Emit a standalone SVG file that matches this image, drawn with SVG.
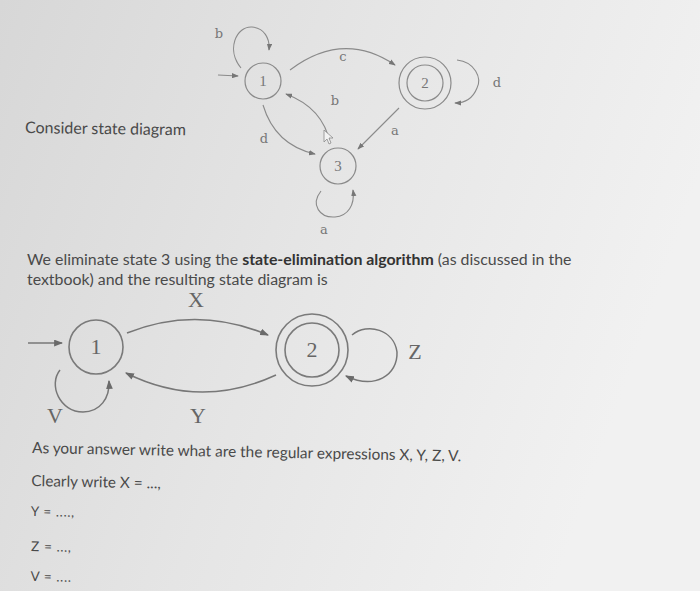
<svg xmlns="http://www.w3.org/2000/svg" width="700" height="591" viewBox="0 0 700 591">
<defs>
<linearGradient id="bg" x1="0" y1="0" x2="1" y2="0.3">
<stop offset="0" stop-color="#d7d7d7"/>
<stop offset="0.5" stop-color="#e5e5e5"/>
<stop offset="1" stop-color="#f1f1f1"/>
</linearGradient>
<marker id="ah" viewBox="0 0 8 6" refX="7" refY="3" markerWidth="7" markerHeight="5.5" orient="auto" markerUnits="userSpaceOnUse">
<path d="M0,0 L8,3 L0,6 z" fill="#777"/>
</marker>
<marker id="ah2" viewBox="0 0 8 6" refX="7" refY="3" markerWidth="9" markerHeight="7" orient="auto" markerUnits="userSpaceOnUse">
<path d="M0,0 L8,3 L0,6 z" fill="#6a6a6a"/>
</marker>
</defs>
<style>
.st{fill:none;stroke:#8a8a8a;stroke-width:1.2}
.st2{fill:none;stroke:#7a7a7a;stroke-width:1.6}
.e{fill:none;stroke:#8a8a8a;stroke-width:1.1;marker-end:url(#ah)}
.e2{fill:none;stroke:#777;stroke-width:1.5;marker-end:url(#ah2)}
.lb{font-family:"DejaVu Serif","Liberation Serif",serif;font-size:13px;fill:#777;text-anchor:middle}
.lb2{font-family:"Liberation Serif","DejaVu Serif",serif;font-size:22px;fill:#666;text-anchor:middle}
.n1{font-family:"Liberation Serif","DejaVu Serif",serif;font-size:15px;fill:#777;text-anchor:middle}
.n2{font-family:"Liberation Serif","DejaVu Serif",serif;font-size:22px;fill:#666;text-anchor:middle}
.tx{font-family:Lato,"Open Sans",sans-serif;fill:#4a4a4a}
</style>
<rect width="700" height="591" fill="url(#bg)"/>

<text class="tx" x="25" y="133" font-size="16" transform="rotate(0.8 25 133)">Consider state diagram</text>

<g id="top-connectors">
<path class="e" d="M218,75 L238,76"/>
<path class="e" d="M241,68 C226,50 236,26 252,27 C264,28 270,38 269,50"/>
<path class="e" d="M290,70 Q343,30 395,65"/>
<path class="e" d="M457,60 C475,62 482,78 477,88 C473,98 465,103 455,103"/>
<path class="e" d="M330,143 Q323,108 286,94"/>
<path class="e" d="M263,105 Q275,145 315,154"/>
<path class="e" d="M399,108 L358,149"/>
<path class="e" d="M321,191 C310,205 320,218 335,217 C348,216 355,205 353,190"/>
<text class="lb" x="219" y="38">b</text>
<text class="lb" x="343" y="61">c</text>
<text class="lb" x="497" y="87">d</text>
<text class="lb" x="335" y="105">b</text>
<text class="lb" x="264" y="143">d</text>
<text class="lb" x="395" y="135">a</text>
<text class="lb" x="324" y="234">a</text>
</g>
<g id="t-state1"><circle class="st" cx="263" cy="81" r="18"/><text class="n1" x="263" y="86">1</text></g>
<g id="t-state2"><circle class="st" cx="425" cy="83" r="26"/><circle class="st" cx="425" cy="83" r="18"/><text class="n1" x="425" y="88">2</text></g>
<g id="t-state3"><circle class="st" cx="338" cy="166" r="18"/><text class="n1" x="338" y="171">3</text></g>
<path d="M324,130 L324,142 L327,139 L329,144 L331,143 L329,138 L333,138 z" fill="#f2f2f2" stroke="#8a8a8a" stroke-width="0.8"/>

<g class="tx" font-size="15.9">
<text x="27" y="265">We eliminate state 3 using the <tspan font-weight="bold" fill="#333">state-elimination algorithm</tspan> (as discussed in the</text>
<text x="27" y="284.5">textbook) and the resulting state diagram is</text>
</g>

<g id="bottom-connectors">
<path class="e2" d="M28,343 L62,343"/>
<path class="e2" d="M127,333 Q197,305 268,335"/>
<path class="e2" d="M276,375 Q200,410 126,373"/>
<path class="e2" d="M352,335 C368,322 394,330 397,352 C398,375 375,390 346,376"/>
<path class="e2" d="M60,370 C48,385 60,412 83,412 C100,412 110,398 109,381"/>
<text class="lb2" x="196" y="307" font-size="21">X</text>
<text class="lb2" x="198" y="423">Y</text>
<text class="lb2" x="415" y="359">Z</text>
<text class="lb2" x="55" y="423">V</text>
</g>
<g id="b-state1"><circle class="st2" cx="96" cy="347" r="27"/><text class="n2" x="96" y="354">1</text></g>
<g id="b-state2"><circle class="st2" cx="312" cy="350" r="36"/><circle class="st2" cx="312" cy="350" r="27"/><text class="n2" x="312" y="357">2</text></g>

<g class="tx" fill="#5a5a5a" transform="rotate(1.1 32 453)">
<text x="32" y="453" font-size="15.4">As your answer write what are the regular expressions X, Y, Z, V.</text>
<text x="32" y="486" font-size="15.3">Clearly write X = ...,</text>
<text x="32" y="516" font-size="13.5" letter-spacing="0.6">Y = ....,</text>
<text x="33" y="551" font-size="13.5" letter-spacing="0.6">Z = ...,</text>
<text x="33" y="581" font-size="13.5" letter-spacing="0.6">V = ....</text>
</g>
</svg>
